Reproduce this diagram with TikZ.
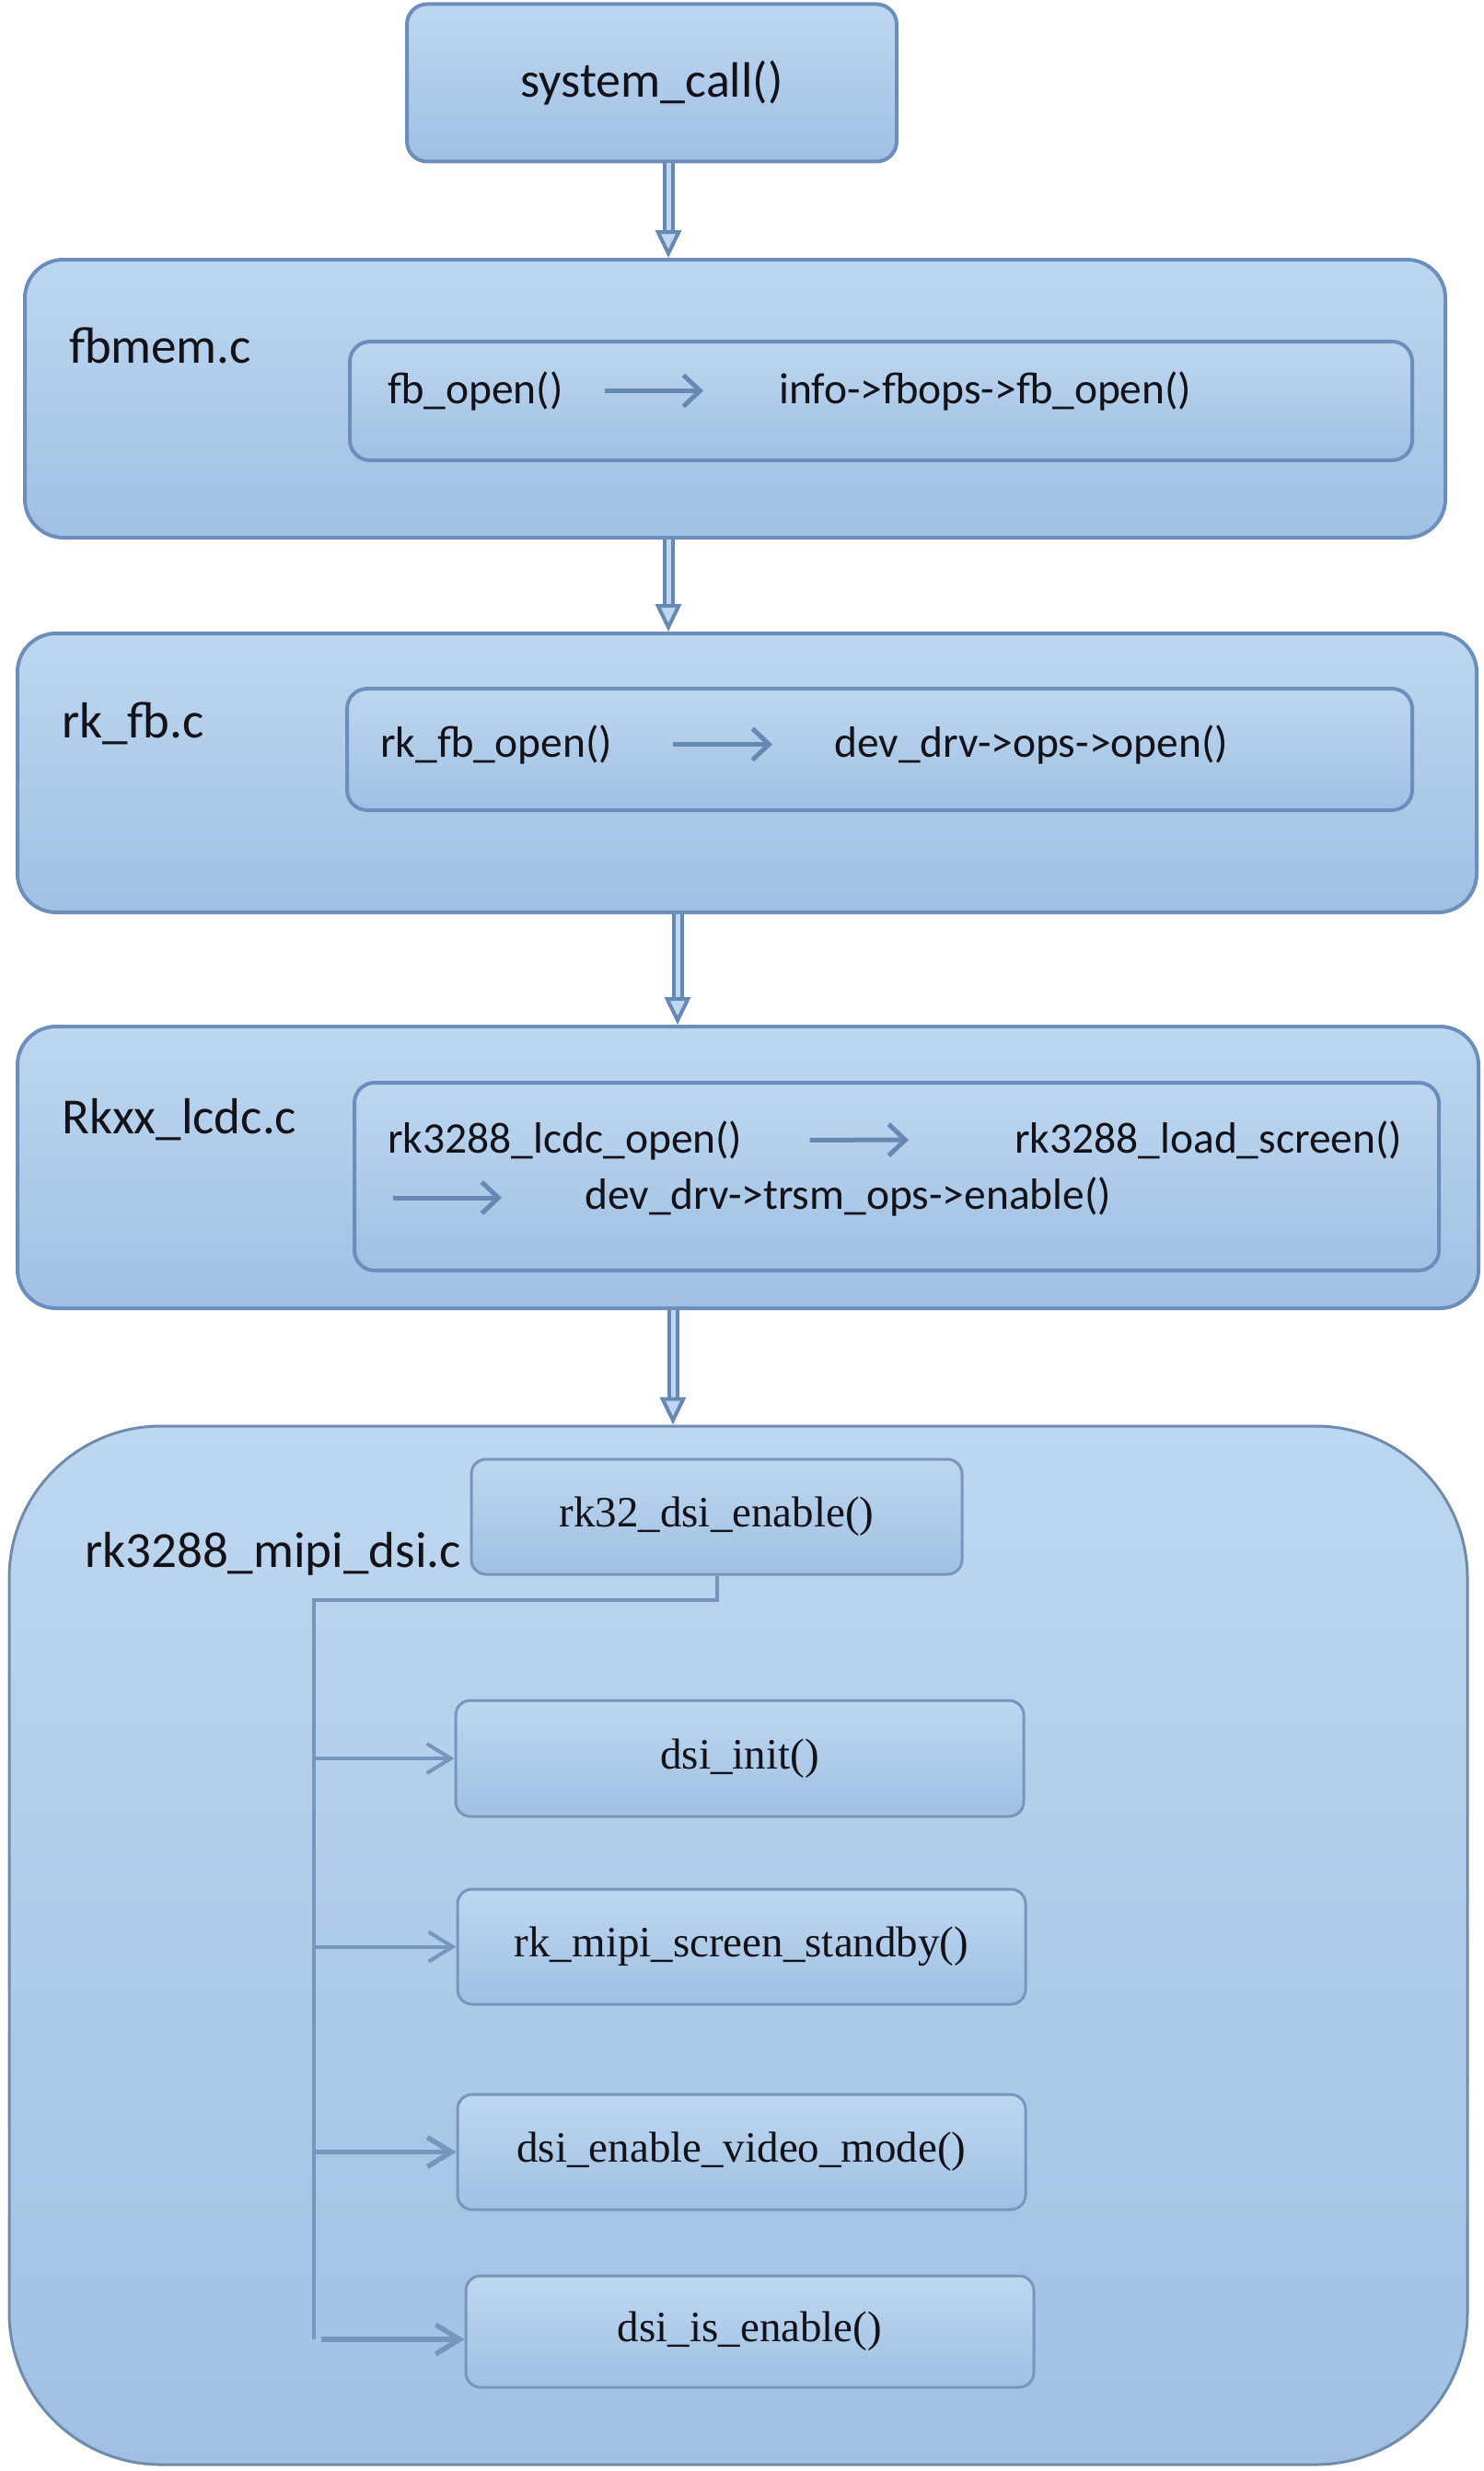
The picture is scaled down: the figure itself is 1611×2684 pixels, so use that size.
\documentclass[tikz,border=0pt]{standalone}
\usepackage{fontspec}
\setmainfont{Carlito}
\newfontfamily\serifB{Liberation Serif}
\usetikzlibrary{arrows.meta}
\definecolor{boxTop}{RGB}{190,215,240}
\definecolor{boxBot}{RGB}{160,192,227}
\definecolor{edgeC}{RGB}{108,142,188}
\definecolor{edgeL}{RGB}{118,150,190}
\definecolor{edgeM}{RGB}{112,140,172}
\definecolor{arrC}{RGB}{104,136,180}
\definecolor{txtC}{RGB}{18,18,24}
\begin{document}
\begin{tikzpicture}[x=1pt,y=-1pt,
  groupbox/.style={draw=edgeC, line width=4pt, rounded corners=42pt, top color=boxTop, bottom color=boxBot, inner sep=0pt},
  innerbox/.style={draw=edgeC, line width=4pt, rounded corners=22pt, top color=boxTop, bottom color=boxBot, inner sep=0pt},
  fnbox/.style={draw=edgeL, line width=3pt, rounded corners=16pt, top color=boxTop, bottom color=boxBot, inner sep=0pt, text=txtC, font=\serifB\fontsize{47}{52}\selectfont},
  grplabel/.style={anchor=base west, inner sep=0pt, text=txtC, font=\fontsize{55}{60}\selectfont},
  fntext/.style={anchor=base west, inner sep=0pt, text=txtC, font=\fontsize{47.5}{52}\selectfont},
  varrow/.style={draw=arrC, line width=4pt, double=boxTop, double distance=5pt, -{Triangle[length=30pt, width=28pt, open, fill=boxTop]}},
  harrow/.style={draw=arrC, line width=5pt, -{Straight Barb[length=18pt, width=34pt]}},
  conn/.style={draw=edgeL, line width=4pt},
  branch/.style={draw=edgeL, line width=4pt, -{Straight Barb[length=26pt, width=32pt]}}
]
\useasboundingbox[fill=white] (0,0) rectangle (1611,2684);

% top box
\node[innerbox, rounded corners=22pt, minimum width=532pt, minimum height=171pt,
      text=txtC, font=\fontsize{54}{60}\selectfont] (sys) at (708,90) {system\_call()};

% fbmem.c
\node[groupbox, minimum width=1543pt, minimum height=302pt] (fbmem) at (798.5,433) {};
\node[innerbox, minimum width=1154pt, minimum height=129pt] (fbin) at (957,435.5) {};
\node[grplabel] (lfbmem) at (75,394) {fbmem.c};
\node[fntext] (t1) at (421,438) {fb\_open()};
\node[fntext] (t2) at (846,438) {info->fbops->fb\_open()};
\draw[harrow, shorten <=45pt, shorten >=82pt] (t1.east) -- (t2.west);

% rk_fb.c
\node[groupbox, minimum width=1585pt, minimum height=303pt] (rkfb) at (811.5,839.5) {};
\node[innerbox, minimum width=1157pt, minimum height=132pt] (rkfbin) at (955.5,814) {};
\node[grplabel] (lrkfb) at (67,801) {rk\_fb.c};
\node[fntext] (t3) at (413,822) {rk\_fb\_open()};
\node[fntext] (t4) at (906,822) {dev\_drv->ops->open()};
\draw[harrow, shorten <=66pt, shorten >=67pt] (t3.east) -- (t4.west);

% Rkxx_lcdc.c
\node[groupbox, minimum width=1587pt, minimum height=306pt] (rkxx) at (812.5,1268) {};
\node[innerbox, minimum width=1178pt, minimum height=204pt] (rkxxin) at (974,1278) {};
\node[grplabel] (lrkxx) at (67,1231) {Rkxx\_lcdc.c};
\node[fntext] (t5) at (421,1252) {rk3288\_lcdc\_open()};
\node[fntext] (t6) at (1102,1252) {rk3288\_load\_screen()};
\node[fntext] (t7) at (635,1313) {dev\_drv->trsm\_ops->enable()};
\draw[harrow, shorten <=73pt, shorten >=115pt] (t5.east) -- (t6.west);
\coordinate (c2) at (427,1301);
\draw[harrow, shorten >=90pt] (c2) -- (c2 -| t7.west);

% rk3288_mipi_dsi.c
\node[groupbox, draw=edgeM, line width=3pt, rounded corners=165pt, minimum width=1584pt, minimum height=1128pt] (mipi) at (802,2113) {};
\node[grplabel] (lmipi) at (92,1702) {rk3288\_mipi\_dsi.c};
\node[fnbox, minimum width=533pt, minimum height=125pt] (en) at (778.5,1647.5) {rk32\_dsi\_enable()};
\node[fnbox, minimum width=617pt, minimum height=126pt] (init) at (803.5,1910) {dsi\_init()};
\node[fnbox, minimum width=617pt, minimum height=125pt] (stby) at (805.5,2114.5) {rk\_mipi\_screen\_standby()};
\node[fnbox, minimum width=617pt, minimum height=125pt] (video) at (805.5,2337.5) {dsi\_enable\_video\_mode()};
\node[fnbox, minimum width=617pt, minimum height=121pt] (isen) at (814.5,2532.5) {dsi\_is\_enable()};

\coordinate (tk1) at (341,1738);
\coordinate (tk2) at (341,2541);
\draw[conn] (en.south) |- (tk1) -- (tk2);
\draw[branch] (tk1 |- init.west) -- (init.west);
\draw[branch] (tk1 |- stby.west) -- (stby.west);
\draw[branch, line width=5.5pt] (tk1 |- video.west) -- (video.west);
\draw[branch, line width=5.5pt] ([xshift=8pt]tk2) -- ([yshift=-8.5pt]isen.west);

% vertical arrows
\draw[varrow] ([xshift=18pt]sys.south) -- ([xshift=18pt]sys.south |- fbmem.north);
\draw[varrow] ([xshift=-72.5pt]fbmem.south) -- ([xshift=-72.5pt]fbmem.south |- rkfb.north);
\draw[varrow] ([xshift=-75.5pt]rkfb.south) -- ([xshift=-75.5pt]rkfb.south |- rkxx.north);
\draw[varrow] ([xshift=-81.5pt]rkxx.south) -- ([xshift=-81.5pt]rkxx.south |- mipi.north);
\end{tikzpicture}
\end{document}
